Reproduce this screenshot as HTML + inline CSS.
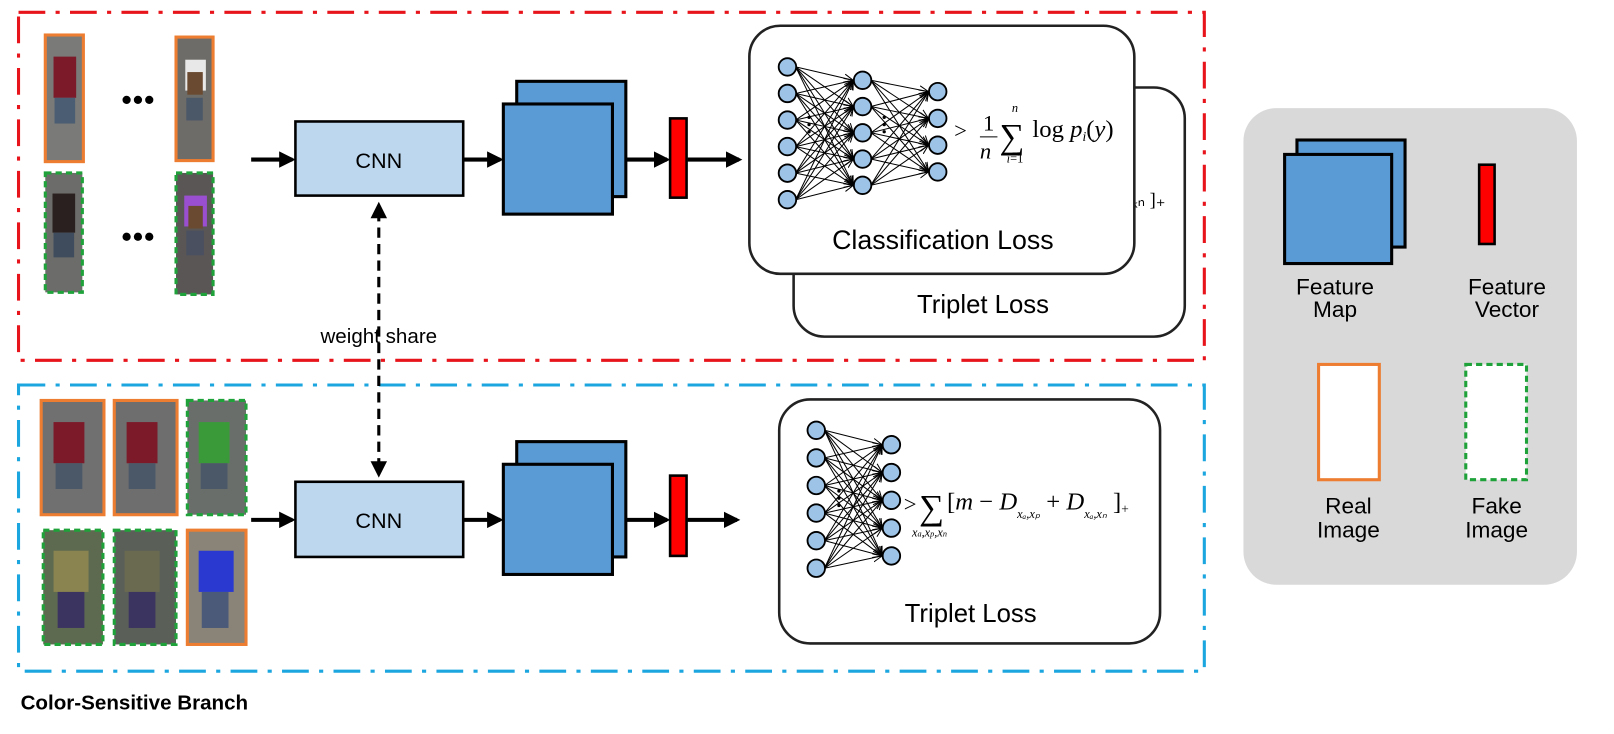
<!DOCTYPE html>
<html><head><meta charset="utf-8"><style>
html,body{margin:0;padding:0;background:#fff;}
svg{display:block;}
text{font-family:"Liberation Sans","DejaVu Sans",sans-serif;}
.m{font-family:"Liberation Serif",serif;}
</style></head><body>
<svg id="s" width="1614" height="734" viewBox="0 0 1568 713" preserveAspectRatio="none" xmlns="http://www.w3.org/2000/svg">
<defs>
<marker id="ah" markerWidth="4" markerHeight="4" refX="3.2" refY="2" orient="auto" markerUnits="strokeWidth"><path d="M0,0 L4,2 L0,4 z" fill="#000"/></marker>
<marker id="sa" markerWidth="10" markerHeight="10" refX="9" refY="5" orient="auto" markerUnits="userSpaceOnUse"><path d="M0,1 L9,5 L0,9" fill="none" stroke="#000" stroke-width="1"/></marker>
</defs>
<rect x="18" y="12" width="1152" height="338" fill="none" stroke="#e8141b" stroke-width="3" stroke-dasharray="26 10 4 10"/>
<rect x="18" y="374" width="1152" height="278" fill="none" stroke="#1ca6df" stroke-width="3" stroke-dasharray="26 10 4 10"/>
<text x="20" y="689" font-size="20" font-weight="bold">Color-Sensitive Branch</text>

<g>
<rect x="44" y="34" width="37" height="123" fill="#7a7a78" stroke="#ed7d31" stroke-width="3"/>
<rect x="52" y="55" width="22" height="40" fill="#7c1a2a"/><rect x="53" y="95" width="20" height="25" fill="#4a5d72"/>
<rect x="171" y="36" width="36" height="120" fill="#6e6c68" stroke="#ed7d31" stroke-width="3"/>
<rect x="180" y="58" width="20" height="30" fill="#e8e8e8"/><rect x="182" y="70" width="15" height="22" fill="#6a4a30"/><rect x="181" y="95" width="16" height="22" fill="#4a5868"/>
<rect x="44" y="168" width="36" height="116" fill="#6c6c6a" stroke="#1fa23a" stroke-width="3" stroke-dasharray="6 4"/>
<rect x="51" y="188" width="22" height="38" fill="#2a2020"/><rect x="52" y="226" width="20" height="24" fill="#3e4c5e"/>
<rect x="171" y="168" width="36" height="118" fill="#5a5656" stroke="#1fa23a" stroke-width="3" stroke-dasharray="6 4"/>
<rect x="179" y="190" width="22" height="30" fill="#9a4fd0"/><rect x="183" y="200" width="14" height="22" fill="#6a4a30"/><rect x="181" y="224" width="17" height="24" fill="#4a5060"/>
<g fill="#000"><circle cx="123" cy="97" r="4"/><circle cx="134" cy="97" r="4"/><circle cx="145" cy="97" r="4"/>
<circle cx="123" cy="230" r="4"/><circle cx="134" cy="230" r="4"/><circle cx="145" cy="230" r="4"/></g>
</g>
<g>
<rect x="40" y="389" width="61" height="111" fill="#707070" stroke="#ed7d31" stroke-width="3"/><rect x="52" y="410" width="30" height="40" fill="#7c1a2a"/><rect x="54" y="450" width="26" height="25" fill="#4a5868"/>
<rect x="111" y="389" width="61" height="111" fill="#6e6e6e" stroke="#ed7d31" stroke-width="3"/><rect x="123" y="410" width="30" height="40" fill="#7c1a2a"/><rect x="125" y="450" width="26" height="25" fill="#4a5868"/>
<rect x="182" y="389" width="57" height="111" fill="#6a6e6a" stroke="#1fa23a" stroke-width="3" stroke-dasharray="6 4"/><rect x="193" y="410" width="30" height="40" fill="#3a9a3a"/><rect x="195" y="450" width="26" height="25" fill="#4a5868"/>
<rect x="42" y="515" width="58" height="111" fill="#5e6a50" stroke="#1fa23a" stroke-width="3" stroke-dasharray="6 4"/><rect x="52" y="535" width="34" height="40" fill="#8a8450"/><rect x="56" y="575" width="26" height="35" fill="#3c3460"/>
<rect x="111" y="515" width="60" height="111" fill="#5a6058" stroke="#1fa23a" stroke-width="3" stroke-dasharray="6 4"/><rect x="121" y="535" width="34" height="40" fill="#6a6a50"/><rect x="125" y="575" width="26" height="35" fill="#3c3460"/>
<rect x="182" y="515" width="57" height="111" fill="#8a8478" stroke="#ed7d31" stroke-width="3"/><rect x="193" y="535" width="34" height="40" fill="#2a3ad0"/><rect x="196" y="575" width="26" height="35" fill="#4a5a78"/>
</g>

<g stroke="#000" stroke-width="4" marker-end="url(#ah)">
<line x1="244" y1="155" x2="284" y2="155"/>
<line x1="450" y1="155" x2="486" y2="155"/>
<line x1="597" y1="155" x2="648" y2="155"/>
<line x1="668" y1="155" x2="718" y2="155"/>
<line x1="244" y1="505" x2="284" y2="505"/>
<line x1="450" y1="505" x2="486" y2="505"/>
<line x1="597" y1="505" x2="648" y2="505"/>
<line x1="668" y1="505" x2="716" y2="505"/>
</g>
<rect x="287" y="118" width="163" height="72" fill="#bdd7ee" stroke="#000" stroke-width="2.5"/>
<text x="368" y="163" font-size="21" text-anchor="middle">CNN</text>
<rect x="502" y="79" width="106" height="112" fill="#5b9bd5" stroke="#000" stroke-width="3"/>
<rect x="489" y="101" width="106" height="107" fill="#5b9bd5" stroke="#000" stroke-width="3"/>
<rect x="651" y="115" width="16" height="77" fill="#f00" stroke="#000" stroke-width="2.5"/>

<rect x="287" y="468" width="163" height="73" fill="#bdd7ee" stroke="#000" stroke-width="2.5"/>
<text x="368" y="513" font-size="21" text-anchor="middle">CNN</text>
<rect x="502" y="429" width="106" height="112" fill="#5b9bd5" stroke="#000" stroke-width="3"/>
<rect x="489" y="451" width="106" height="107" fill="#5b9bd5" stroke="#000" stroke-width="3"/>
<rect x="651" y="462" width="16" height="78" fill="#f00" stroke="#000" stroke-width="2.5"/>

<line x1="368" y1="205" x2="368" y2="455" stroke="#000" stroke-width="3" stroke-dasharray="10 6"/>
<path d="M360,212 L368,196 L376,212 z M360,448 L368,464 L376,448 z" fill="#000"/>
<text x="368" y="333" font-size="20" text-anchor="middle">weight share</text>

<rect x="771" y="85" width="380" height="242" rx="30" fill="#fff" stroke="#222" stroke-width="2.5"/>
<text x="955" y="304" font-size="25" text-anchor="middle">Triplet Loss</text>
<text x="1100" y="200" font-size="18" class="m">ₓₙ ]₊</text>
<rect x="728" y="25" width="374" height="241" rx="30" fill="#fff" stroke="#222" stroke-width="2.5"/>
<text x="916" y="242" font-size="26" text-anchor="middle">Classification Loss</text>
<g id="nn1"></g>
<text x="927" y="134" font-size="22" class="m">&gt;</text>
<text x="955" y="127" font-size="22" class="m">1</text>
<line x1="952" y1="133" x2="969" y2="133" stroke="#000" stroke-width="1"/>
<text x="952" y="154" font-size="22" class="m" font-style="italic">n</text>
<text x="971" y="144" font-size="34" class="m">∑</text>
<text x="983" y="109" font-size="12" class="m" font-style="italic">n</text>
<text x="978" y="158" font-size="12" class="m"><tspan font-style="italic">i</tspan>=1</text>
<text x="1003" y="133" font-size="24" class="m">log <tspan font-style="italic">p</tspan><tspan font-size="13" dy="4" font-style="italic">i</tspan><tspan dy="-4">(</tspan><tspan font-style="italic">y</tspan>)</text>

<rect x="757" y="388" width="370" height="237" rx="30" fill="#fff" stroke="#222" stroke-width="2.5"/>
<text x="943" y="604" font-size="25" text-anchor="middle">Triplet Loss</text>
<g id="nn2"></g>
<text x="878" y="497" font-size="22" class="m">&gt;</text>
<text x="893" y="504" font-size="34" class="m">∑</text>
<text x="886" y="521" font-size="12" class="m" font-style="italic">x<tspan font-size="8">a</tspan>,x<tspan font-size="8">p</tspan>,x<tspan font-size="8">n</tspan></text>
<text x="920" y="495" font-size="24" class="m">[<tspan font-style="italic">m</tspan> − <tspan font-style="italic">D</tspan><tspan font-size="12" dy="8" font-style="italic">xₐ,xₚ</tspan><tspan dy="-8"> + </tspan><tspan font-style="italic">D</tspan><tspan font-size="12" dy="8" font-style="italic">xₐ,xₙ</tspan><tspan dy="-8"> ]</tspan><tspan font-size="13" dy="4">+</tspan></text>

<rect x="1208" y="105" width="324" height="463" rx="32" fill="#d9d9d9"/>
<rect x="1260" y="136" width="105" height="104" fill="#5b9bd5" stroke="#000" stroke-width="3"/>
<rect x="1248" y="150" width="104" height="106" fill="#5b9bd5" stroke="#000" stroke-width="3"/>
<text x="1297" y="286" font-size="22" text-anchor="middle">Feature</text>
<text x="1297" y="308" font-size="22" text-anchor="middle">Map</text>
<rect x="1437" y="160" width="15" height="77" fill="#f00" stroke="#000" stroke-width="2.5"/>
<text x="1464" y="286" font-size="22" text-anchor="middle">Feature</text>
<text x="1464" y="308" font-size="22" text-anchor="middle">Vector</text>
<rect x="1281" y="354" width="59" height="112" fill="#fff" stroke="#ed7d31" stroke-width="3"/>
<text x="1310" y="499" font-size="22" text-anchor="middle">Real</text>
<text x="1310" y="522" font-size="22" text-anchor="middle">Image</text>
<rect x="1424" y="354" width="59" height="112" fill="#fff" stroke="#1fa23a" stroke-width="3" stroke-dasharray="6 4"/>
<text x="1454" y="499" font-size="22" text-anchor="middle">Fake</text>
<text x="1454" y="522" font-size="22" text-anchor="middle">Image</text>
</svg>
<script>
(function(){
var NS="http://www.w3.org/2000/svg";
function col(x,y0,y1,n){var a=[];for(var i=0;i<n;i++)a.push([x,y0+(y1-y0)*i/(n-1)]);return a;}
function build(g,layers,dots){
 for(var l=0;l<layers.length-1;l++){
  layers[l].forEach(function(p){layers[l+1].forEach(function(q){
   var e=document.createElementNS(NS,"line");
   e.setAttribute("x1",p[0]+8);e.setAttribute("y1",p[1]);
   e.setAttribute("x2",q[0]-9);e.setAttribute("y2",q[1]);
   e.setAttribute("stroke","#000");e.setAttribute("stroke-width","1");
   e.setAttribute("marker-end","url(#sa)");g.appendChild(e);});});
 }
 layers.forEach(function(L){L.forEach(function(p){
  var c=document.createElementNS(NS,"circle");
  c.setAttribute("cx",p[0]);c.setAttribute("cy",p[1]);c.setAttribute("r",8.5);
  c.setAttribute("fill","#9dc3e6");c.setAttribute("stroke","#000");c.setAttribute("stroke-width","1.8");
  g.appendChild(c);});});
 dots.forEach(function(d){for(var k=0;k<3;k++){var c=document.createElementNS(NS,"circle");
  c.setAttribute("cx",d[0]);c.setAttribute("cy",d[1]+k*7);c.setAttribute("r",1.6);c.setAttribute("fill","#000");g.appendChild(c);}});
}
build(document.getElementById("nn1"),[col(765,65,194,6),col(838,78,180,5),col(911,89,167,4)],[[786,114],[859,114]]);
build(document.getElementById("nn2"),[col(793,418,552,6),col(866,432,540,5)],[[815,477]]);
})();
</script>
</body></html>
